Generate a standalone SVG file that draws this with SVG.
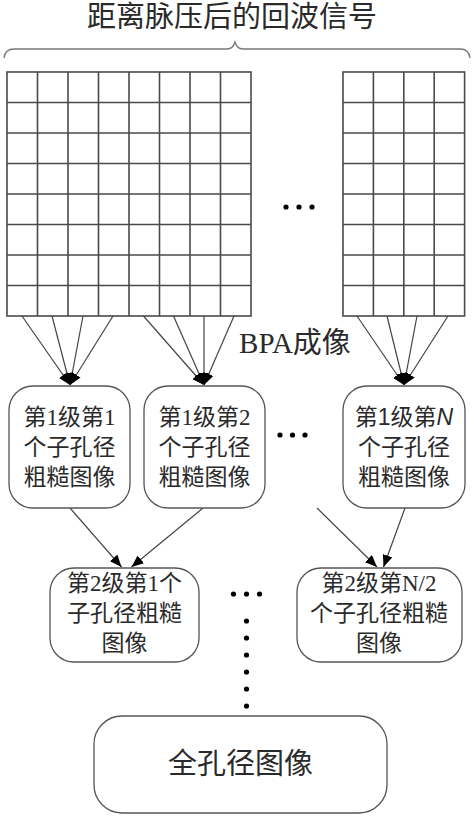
<svg xmlns="http://www.w3.org/2000/svg" width="474" height="818" viewBox="0 0 474 818">
<defs>
<style>
.t{font-family:"Liberation Serif","Noto Sans CJK SC",serif;fill:#2a2a2a;text-anchor:middle}
.s{font-family:"Liberation Sans","Noto Sans CJK SC",sans-serif}
.box{fill:#fff;stroke:#555;stroke-width:1.3}
.grid{fill:none;stroke:#4a4a4a;stroke-width:1.6}
.con{fill:none;stroke:#444;stroke-width:1.2}
.dot{fill:#000}
</style>
<marker id="ah" viewBox="0 0 12 10" refX="12" refY="5" markerWidth="12" markerHeight="10" orient="auto" markerUnits="userSpaceOnUse">
<path d="M0,0 L12,5 L0,10 Z" fill="#000"/>
</marker>
</defs>
<rect width="474" height="818" fill="#fff"/>

<g id="title">
<text class="t" x="232" y="27" font-size="29">距离脉压后的回波信号</text>
<path d="M4,58 Q5,49 14,49 L227,49 Q233,49 235,42 Q237,49 243,49 L460,49 Q469,49 470,58" fill="none" stroke="#777" stroke-width="1.3"/>
</g>

<g id="grid1" class="grid">
<rect x="7" y="72" width="244" height="244"/>
<path d="M37.5,72V316M68,72V316M98.5,72V316M129,72V316M159.5,72V316M190,72V316M220.5,72V316"/>
<path d="M7,102.5H251M7,133H251M7,163.5H251M7,194H251M7,224.5H251M7,255H251M7,285.5H251"/>
</g>
<g id="gridN" class="grid">
<rect x="343" y="72" width="121.6" height="244"/>
<path d="M373.4,72V316M403.8,72V316M434.2,72V316"/>
<path d="M343,102.5H464.6M343,133H464.6M343,163.5H464.6M343,194H464.6M343,224.5H464.6M343,255H464.6M343,285.5H464.6"/>
</g>

<g id="dots">
<circle class="dot" cx="286" cy="207" r="2.6"/>
<circle class="dot" cx="299" cy="207" r="2.6"/>
<circle class="dot" cx="312" cy="207" r="2.6"/>
<circle class="dot" cx="280" cy="435" r="2.6"/>
<circle class="dot" cx="292.5" cy="435" r="2.6"/>
<circle class="dot" cx="305" cy="435" r="2.6"/>
<circle class="dot" cx="233.5" cy="594" r="2.6"/>
<circle class="dot" cx="246.5" cy="594" r="2.6"/>
<circle class="dot" cx="259.5" cy="594" r="2.6"/>
<circle class="dot" cx="246.5" cy="621" r="2.6"/>
<circle class="dot" cx="246.5" cy="638" r="2.6"/>
<circle class="dot" cx="246.5" cy="655" r="2.6"/>
<circle class="dot" cx="246.5" cy="672" r="2.6"/>
<circle class="dot" cx="246.5" cy="689" r="2.6"/>
<circle class="dot" cx="246.5" cy="706" r="2.6"/>
</g>

<g id="connectors" class="con" marker-end="url(#ah)">
<line x1="22" y1="316" x2="70" y2="385"/>
<line x1="52" y1="316" x2="70" y2="385"/>
<line x1="83" y1="316" x2="70" y2="385"/>
<line x1="113" y1="316" x2="70" y2="385"/>
<line x1="143.5" y1="316" x2="204" y2="385"/>
<line x1="173.5" y1="316" x2="204" y2="385"/>
<line x1="204" y1="316" x2="204" y2="385"/>
<line x1="234" y1="316" x2="204" y2="385"/>
<line x1="357" y1="316" x2="404" y2="385"/>
<line x1="387" y1="316" x2="404" y2="385"/>
<line x1="417" y1="316" x2="404" y2="385"/>
<line x1="448" y1="316" x2="404" y2="385"/>
<line x1="70" y1="508" x2="121.5" y2="567"/>
<line x1="203" y1="508" x2="131.5" y2="567"/>
<line x1="317" y1="508" x2="377" y2="567"/>
<line x1="405" y1="508" x2="383.5" y2="567"/>
</g>

<g id="bpa-label">
<text class="t" x="295" y="353" font-size="29">BPA成像</text>
</g>

<g id="n1">
<rect class="box" x="9" y="386" width="121" height="122" rx="24"/>
<text class="t" x="69.5" y="425" font-size="23">第1级第1</text>
<text class="t" x="69.5" y="455" font-size="23">个子孔径</text>
<text class="t" x="69.5" y="485" font-size="23">粗糙图像</text>
</g>
<g id="n2">
<rect class="box" x="144" y="386" width="121" height="122" rx="24"/>
<text class="t" x="204.5" y="425" font-size="23">第1级第2</text>
<text class="t" x="204.5" y="455" font-size="23">个子孔径</text>
<text class="t" x="204.5" y="485" font-size="23">粗糙图像</text>
</g>
<g id="nN">
<rect class="box" x="343" y="386" width="122" height="122" rx="24"/>
<text class="t" x="404" y="425" font-size="23">第<tspan class="s">1</tspan>级第<tspan class="s" font-style="italic">N</tspan></text>
<text class="t" x="404" y="455" font-size="23">个子孔径</text>
<text class="t" x="404" y="485" font-size="23">粗糙图像</text>
</g>
<g id="m1">
<rect class="box" x="50" y="568" width="149" height="94" rx="24"/>
<text class="t" x="124.5" y="591" font-size="23">第2级第1个</text>
<text class="t" x="124.5" y="621" font-size="23">子孔径粗糙</text>
<text class="t" x="124.5" y="651" font-size="23">图像</text>
</g>
<g id="m2">
<rect class="box" x="297" y="568" width="165" height="94" rx="24"/>
<text class="t" x="379" y="591" font-size="23">第2级第N/2</text>
<text class="t" x="379" y="621" font-size="23">个子孔径粗糙</text>
<text class="t" x="379" y="651" font-size="23">图像</text>
</g>
<g id="full">
<rect class="box" x="94" y="716" width="293" height="97" rx="28"/>
<text class="t" x="240.5" y="774" font-size="29">全孔径图像</text>
</g>
</svg>
